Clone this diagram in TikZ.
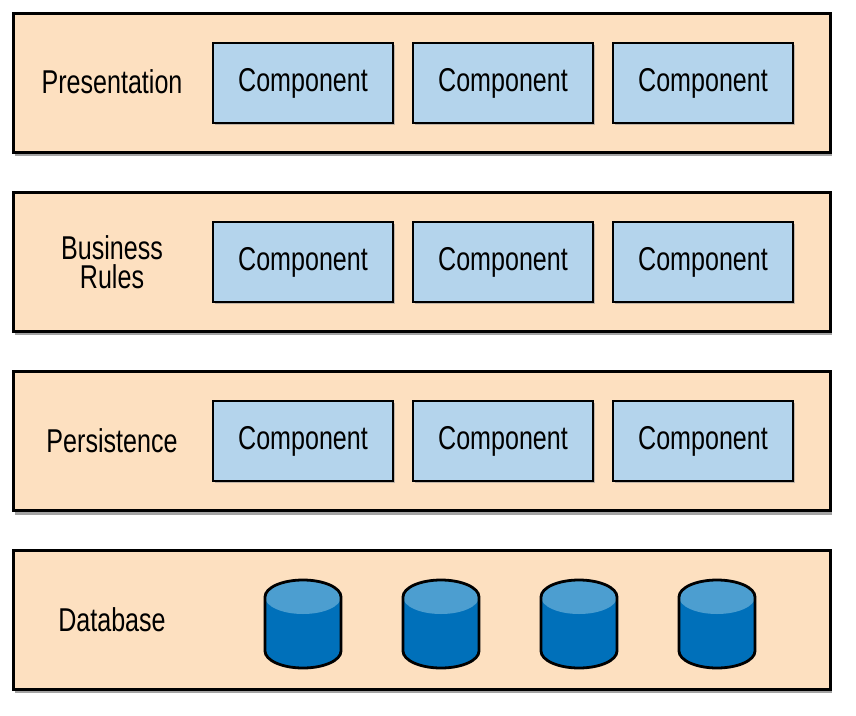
\documentclass[tikz,border=0pt]{standalone}
\usepackage{fontspec}
\setmainfont{Liberation Sans}[FakeStretch=0.76]
\usepackage{tikz}
\usetikzlibrary{positioning,shadows}
\definecolor{peach}{HTML}{FDE0C0}
\definecolor{compblue}{HTML}{B4D4EC}
\definecolor{dbdark}{HTML}{0070BA}
\definecolor{dblight}{HTML}{4C9ED0}
\tikzset{
	layer/.style={draw, line width=3pt, fill=peach, minimum width=817pt, minimum height=139pt, inner sep=0pt,
		drop shadow={shadow xshift=2pt, shadow yshift=-4pt, fill=black!45, opacity=0.8}},
	comp/.style={draw, line width=2.8pt, fill=compblue, minimum width=180pt, minimum height=80pt,
		font=\fontsize{33}{36}\selectfont,
		drop shadow={shadow xshift=1.5pt, shadow yshift=-2pt, fill=black!40, opacity=0.6}},
	lbl/.style={font=\fontsize{33}{36}\selectfont, align=center}
}
\begin{document}
\begin{tikzpicture}[x=1pt, y=-1pt]
	\useasboundingbox (0,0) rectangle (856,715);
	\node [layer] (L1) at (421.5, 82.5) {};
	\node [layer] (L2) at (421.5, 261.5) {};
	\node [layer] (L3) at (421.5, 441) {};
	\node [layer] (L4) at (421.5, 619.5) {};
	\node [lbl] (L1t) at (112, 82) {Presentation};
	\node [lbl] (L2t) at (112, 262) {Business\\[-7pt]Rules};
	\node [lbl] (L3t) at (112, 441) {Persistence};
	\node [lbl] (L4t) at (112, 620) {Database};
	\foreach \r/\y in {1/83, 2/262, 3/441}
		\foreach \c/\x in {1/303, 2/503, 3/703}
			\node [comp] (C\r\c) at (\x, \y) {Component};
	% database cylinders
	\foreach \x in {303, 441, 579, 717} {
		\fill [dbdark] (\x-38, 597) -- (\x-38, 651) arc[start angle=180, end angle=0, x radius=38, y radius=17]
			-- (\x+38, 597) -- cycle;
		\fill [dblight] (\x, 597) ellipse [x radius=38, y radius=17];
		\draw [line width=2.8pt] (\x-38, 597) arc[start angle=180, end angle=360, x radius=38, y radius=17]
			-- (\x+38, 651) arc[start angle=0, end angle=180, x radius=38, y radius=17] -- cycle;
	}
\end{tikzpicture}
\end{document}
